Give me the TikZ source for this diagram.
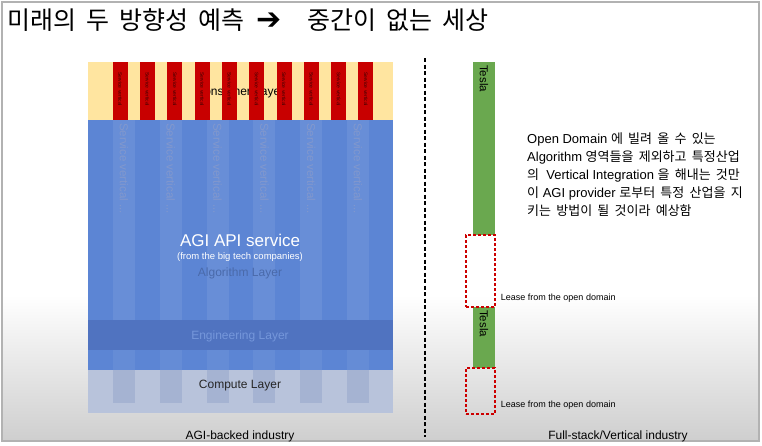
\documentclass[tikz,border=0pt]{standalone}
\usepackage{fontspec}
\setmainfont{Liberation Sans}
\newfontfamily\kr[WordSpace=1.3]{Noto Sans CJK KR}
\newfontfamily\krtitle[WordSpace=1.8]{Noto Sans CJK KR}
\newfontfamily\symfont{DejaVu Sans}
\newcommand{\ko}[1]{{\kr #1}}
\usetikzlibrary{positioning}

\definecolor{consumeryellow}{RGB}{255,229,160}
\definecolor{svcred}{RGB}{200,0,0}
\definecolor{apiblue}{RGB}{92,133,212}
\definecolor{engblue}{RGB}{80,115,192}
\definecolor{computegray}{RGB}{184,195,219}
\definecolor{computecol}{RGB}{165,179,210}
\definecolor{svcgray}{RGB}{130,152,205}
\definecolor{teslagreen}{RGB}{106,168,79}
\definecolor{leasered}{RGB}{204,0,0}

\tikzset{
  lbl/.style={inner sep=0pt, font={\fontsize{12pt}{14pt}\selectfont}},
  svctext/.style={inner sep=0pt, rotate=-90, anchor=west, text=svcgray, font={\fontsize{11.5pt}{13pt}\selectfont}},
  redtext/.style={inner sep=0pt, rotate=-90, text=red!25!black, font={\fontsize{5pt}{6pt}\selectfont}},
  teslatext/.style={inner sep=0pt, rotate=-90, anchor=west, font={\fontsize{11.5pt}{13pt}\selectfont}},
  leasebox/.style={draw=leasered, line width=1.5pt, dash pattern=on 3pt off 2pt, inner sep=0pt, minimum width=29pt},
  leasetext/.style={inner sep=0pt, anchor=west, font={\fontsize{9pt}{10pt}\selectfont}},
  divider/.style={line width=2pt, dash pattern=on 4pt off 2.5pt}
}

\begin{document}
\begin{tikzpicture}[x=1pt,y=-1pt]
  \useasboundingbox (0,0) rectangle (762,445);
  % page with the grey fade at the bottom
  \fill[white] (0,0) rectangle (762,445);
  \shade[top color=white, bottom color=gray!38] (3,295) rectangle (758,440);
  \draw[gray!60, line width=2pt] (2,2) rectangle (759,441);

  % title
  \node[anchor=west, inner sep=0pt, font={\fontsize{25pt}{30pt}\selectfont}] (title) at (7,20)
    {{\krtitle 미래의 두 방향성 예측}\hspace{12pt}{\symfont\fontsize{30pt}{32pt}\selectfont ➔}\hspace{26pt}{\krtitle 중간이 없는 세상}};

  % left stack: compute, API block, consumer band
  \fill[computegray] (88,370) rectangle (393,413);
  \fill[apiblue] (88,120) rectangle (393,370);
  \fill[engblue] (88,320) rectangle (393,350);

  % service verticals running through the layers
  \foreach \i in {0,...,5} {
    \fill[white, opacity=0.08] ({113+46.8*\i},120) rectangle ++(22,200);
    \fill[white, opacity=0.06] ({113+46.8*\i},350) rectangle ++(22,20);
    \fill[computecol] ({113+46.8*\i},370) rectangle ++(22,33);
    \node[svctext] (svc\i) at ({124+46.8*\i},123) {Service vertical ...};
  }

  \fill[consumeryellow] (88,62) rectangle (393,120);
  \node[lbl] (consumerlbl) at (240,93) {Consumer Layer};
  \foreach \i in {0,...,9} {
    \fill[svcred] ({112.7+27.3*\i},62) rectangle ++(15,58);
    \node[redtext] (red\i) at ({120.2+27.3*\i},89) {Service vertical};
  }

  % layer labels
  \node[lbl, text=white, font={\fontsize{17pt}{20pt}\selectfont}] (api) at (240,240) {AGI API service};
  \node[lbl, text=white, font={\fontsize{9.5pt}{11pt}\selectfont}] (apisub) at (240,257) {(from the big tech companies)};
  \node[lbl, text=apiblue!80!black] (alglbl) at (240,273) {Algorithm Layer};
  \node[lbl, text=apiblue!85!white] (englbl) at (240,336) {Engineering Layer};
  \node[lbl, text=black!85] (computelbl) at (240,386) {Compute Layer};
  \node[lbl] (agiind) at (240,436) {AGI-backed industry};

  % divider
  \draw[divider] (425,58) -- (425,437);

  % right side: full-stack vertical
  \fill[teslagreen] (473,62) rectangle (495,235);
  \fill[teslagreen] (473,307) rectangle (495,368);
  \node[teslatext] (tesla1) at (484,65) {Tesla};
  \node[teslatext] (tesla2) at (484,310) {Tesla};
  \node[leasebox, minimum height=72pt] (lease1) at (480.5,271) {};
  \node[leasebox, minimum height=46pt] (lease2) at (480.5,391) {};
  \node[leasetext] (lease1lbl) at ([xshift=5pt, yshift=10pt]lease1.south east) {Lease from the open domain};
  \node[leasetext] (lease2lbl) at ([xshift=5pt, yshift=10pt]lease2.south east) {Lease from the open domain};

  \node[anchor=north west, inner sep=0pt, align=left, font={\fontsize{13pt}{17.8pt}\selectfont}] (note) at (527,133)
    {Open Domain \ko{에 빌려 올 수 있는}\\
     Algorithm \ko{영역들을 제외하고 특정산업}\\
     \ko{의}\ \ Vertical Integration \ko{을 해내는 것만}\\
     \ko{이} AGI provider \ko{로부터 특정 산업을 지}\\
     \ko{키는 방법이 될 것이라 예상함}};

  \node[lbl] (fullind) at (618,436) {Full-stack/Vertical industry};
\end{tikzpicture}
\end{document}
